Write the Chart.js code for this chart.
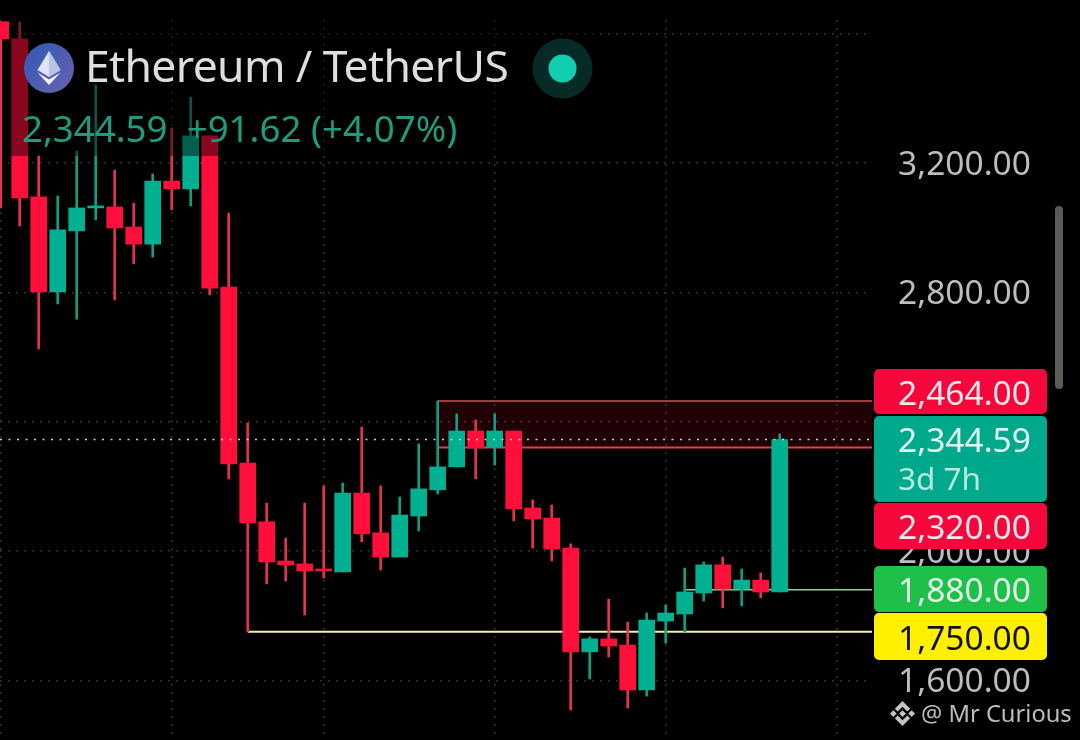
<!DOCTYPE html>
<html>
<head>
<meta charset="utf-8">
<script src="https://cdn.jsdelivr.net/npm/chart.js@4"></script>
<style>
html,body{margin:0;padding:0;background:#000;width:1080px;height:740px;overflow:hidden;font-family:"Noto Sans",sans-serif}
#wrap{position:relative;width:1080px;height:740px}
canvas{position:absolute;left:0;top:0}
.t{position:absolute;white-space:nowrap;line-height:1}
.tag{position:absolute;left:874px;width:173px;border-radius:5px;box-sizing:border-box;padding-left:24px;color:#fde8ea;font-size:33.5px}
.tag span{position:absolute;left:24px;line-height:1;white-space:nowrap}
svg{position:absolute}
</style>
</head>
<body>
<div id="wrap">
<canvas id="c" width="1080" height="740"></canvas>

<svg style="left:24px;top:43px" width="50" height="50" viewBox="0 0 50 50">
 <defs><linearGradient id="g" x1="0" y1="0" x2="1" y2="1"><stop offset="0" stop-color="#2f58b4"/><stop offset="1" stop-color="#6a62b0"/></linearGradient></defs>
 <circle cx="25" cy="25" r="25" fill="url(#g)"/>
 <polygon points="25,8 13.5,27 25,34 36.5,27" fill="#dfe4f7"/>
 <polygon points="25,8 25,34 36.5,27" fill="#b9c4ea"/>
 <polygon points="13.5,29.5 25,36.5 36.5,29.5 25,42" fill="#f2f4fc"/>
</svg>
<div class="t" id="title" style="left:85px;top:43px;font-size:44.5px;letter-spacing:-0.65px;color:#dedede">Ethereum / TetherUS</div>
<svg style="left:532px;top:38px" width="61" height="61"><circle cx="30.5" cy="30.5" r="30" fill="#062a26"/><circle cx="30.5" cy="30.5" r="14" fill="#10cfb0"/></svg>
<div class="t" id="sub" style="left:22px;top:110px;font-size:36.7px;color:#1e9c80;white-space:pre">2,344.59  +91.62 (+4.07%)</div>

<div class="tag" style="top:369px;height:45px;background:#f5073b"><span style="top:7px">2,464.00</span></div>
<div class="tag" style="top:416px;height:86px;background:#00a98b;color:#e2f8f3"><span style="top:7px">2,344.59</span><span style="top:46px;color:#b5ebdf;font-size:31.5px">3d 7h</span></div>
<div class="tag" style="top:503px;height:46px;background:#f5073b"><span style="top:7px">2,320.00</span></div>
<div class="tag" style="top:566px;height:46px;background:#1fc04a;color:#e6f9ea"><span style="top:7px">1,880.00</span></div>
<div class="tag" style="top:612.5px;height:47.5px;background:#fff000;color:#111"><span style="top:8px">1,750.00</span></div>

<div style="position:absolute;left:1055px;top:206px;width:8px;height:183px;border-radius:4px;background:#5c5a56"></div>

<svg style="left:889px;top:700px" width="27" height="27" viewBox="0 0 28 28" fill="#c4c4c4">
 <polygon points="14,1 22,9 19,12 14,7 9,12 6,9"/>
 <polygon points="14,27 22,19 19,16 14,21 9,16 6,19"/>
 <polygon points="4.5,10.5 8,14 4.5,17.5 1,14"/>
 <polygon points="23.5,10.5 27,14 23.5,17.5 20,14"/>
 <polygon points="14,10.5 17.5,14 14,17.5 10.5,14"/>
</svg>
<div class="t" style="left:921px;top:702px;font-size:23.7px;color:#bdbdbd">@ Mr Curious</div>
</div>

<script>
// Candles, oldest first
const opens  = [3637,3584,3095,2801,2990,3061,3064,3002,2949,3144,3120,3284,2816,2272,2090,1969,1960,1944,1935,2179,2056,1981,2108,2189,2260,2371,2322,2371,2133,2102,2009,1688,1728,1709,1570,1783,1805,1870,1957,1882,1910,1873];
const highs  = [3637,3636,3222,3098,3237,3441,3178,3076,3166,3308,3404,3284,3045,2396,2148,2040,2148,2201,2210,2383,2201,2167,2331,2464,2424,2405,2424,2371,2158,2142,2022,1734,1851,1780,1808,1833,1947,1966,1981,1944,1932,2362];
const lows   = [3061,3005,2625,2764,2717,3024,2776,2888,2909,3055,3067,2792,2223,1750,1898,1907,1802,1916,1935,2028,1941,1981,2062,2176,2260,2223,2266,2093,2009,1969,1508,1604,1672,1514,1551,1715,1750,1845,1824,1830,1855,1873];
const closes = [3584,3092,2801,2993,3061,3067,2999,2949,3144,3120,3284,2813,2269,2087,1966,1957,1938,1938,2179,2053,1981,2111,2192,2260,2371,2319,2371,2130,2099,2006,1688,1728,1706,1570,1786,1808,1873,1957,1882,1910,1873,2344.59];

// Horizontal levels drawn on the chart: [start position in candle index, price]
const levelResistTop = [[23,2464],[45.858,2464]];
const levelResistBot = [[23,2320],[45.858,2320]];
const levelLast      = [[-0.037,2344.59],[45.858,2344.59]];
const levelGreen     = [[36,1880],[45.858,1880]];
const levelYellow    = [[13,1750],[45.858,1750]];

// Axis ticks
const priceTicks = [3600,3200,2800,2400,2000,1600];
const priceHidden = [3600,2400];
const timeTicks  = [0,9,17,26,35,44];

const RED='#ff0f3a', GREEN='#00b090', WRED='#e8304f', WGREEN='#0d9f83';
const isUp = i => closes[i] >= opens[i];
const idx = opens.map((_,i)=>i);
const pts = a => a.map(p=>({x:p[0],y:p[1]}));

const dim = {
  id:'dim',
  afterDatasetsDraw(ch){
    const c=ch.ctx; c.save();
    c.fillStyle='rgba(0,0,0,0.46)';
    c.fillRect(10,0,590,156);
    c.restore();
  }
};

function lineDs(data,color,width,extra){
  return Object.assign({type:'line',data:pts(data),borderColor:color,borderWidth:width,pointRadius:0,order:3,tension:0},extra||{});
}

new Chart(document.getElementById('c'),{
  data:{datasets:[
    lineDs(levelResistTop,'#d84a50',1.6,{fill:{target:1},backgroundColor:'rgba(255,10,50,0.12)'}),
    lineDs(levelResistBot,'#e8424c',2),
    lineDs(levelGreen,'#8fcf95',1.6),
    lineDs(levelYellow,'#f6eeaa',1.8),
    {type:'bar',data:idx.map(i=>({x:i,y:[lows[i],highs[i]]})),order:2,grouped:false,barThickness:2,
     backgroundColor:idx.map(i=>isUp(i)?WGREEN:WRED),borderWidth:0},
    {type:'bar',data:idx.map(i=>({x:i,y:[opens[i],closes[i]]})),order:1,grouped:false,barThickness:16,minBarLength:2,
     backgroundColor:idx.map(i=>isUp(i)?GREEN:RED),borderWidth:0},
    lineDs(levelLast,'#c8d4cc',1.5,{borderDash:[2,6.5],order:0})
  ]},
  options:{
    responsive:false,animation:false,devicePixelRatio:1,
    layout:{autoPadding:false,padding:{top:20,bottom:5,left:0,right:0}},
    plugins:{legend:{display:false},tooltip:{enabled:false}},
    scales:{
      x:{type:'linear',offset:false,min:-0.037,max:45.858,
         grid:{color:'#343434',lineWidth:1.5,drawTicks:false,offset:false},
         border:{display:false,dash:[2,6]},
         ticks:{display:false},
         afterBuildTicks(s){s.ticks=timeTicks.map(v=>({value:v}));},
         afterFit(s){s.height=0;s.paddingLeft=0;s.paddingRight=0;}},
      y:{type:'linear',position:'right',min:1430.7,max:3642.3,
         grid:{color:'#343434',lineWidth:1.5,drawTicks:false},
         border:{display:false,dash:[2,6]},
         afterBuildTicks(s){s.ticks=priceTicks.map(v=>({value:v}));},
         afterFit(s){s.width=208;s.paddingTop=0;s.paddingBottom=0;},
         ticks:{color:'#bdbdbd',padding:26,labelOffset:2.5,font:{family:'"Noto Sans"',size:33.5},
           callback(v){return priceHidden.includes(v)?'':v.toLocaleString('en-US',{minimumFractionDigits:2,maximumFractionDigits:2});}}}
    }
  },
  plugins:[dim]
});
</script>
</body>
</html>
